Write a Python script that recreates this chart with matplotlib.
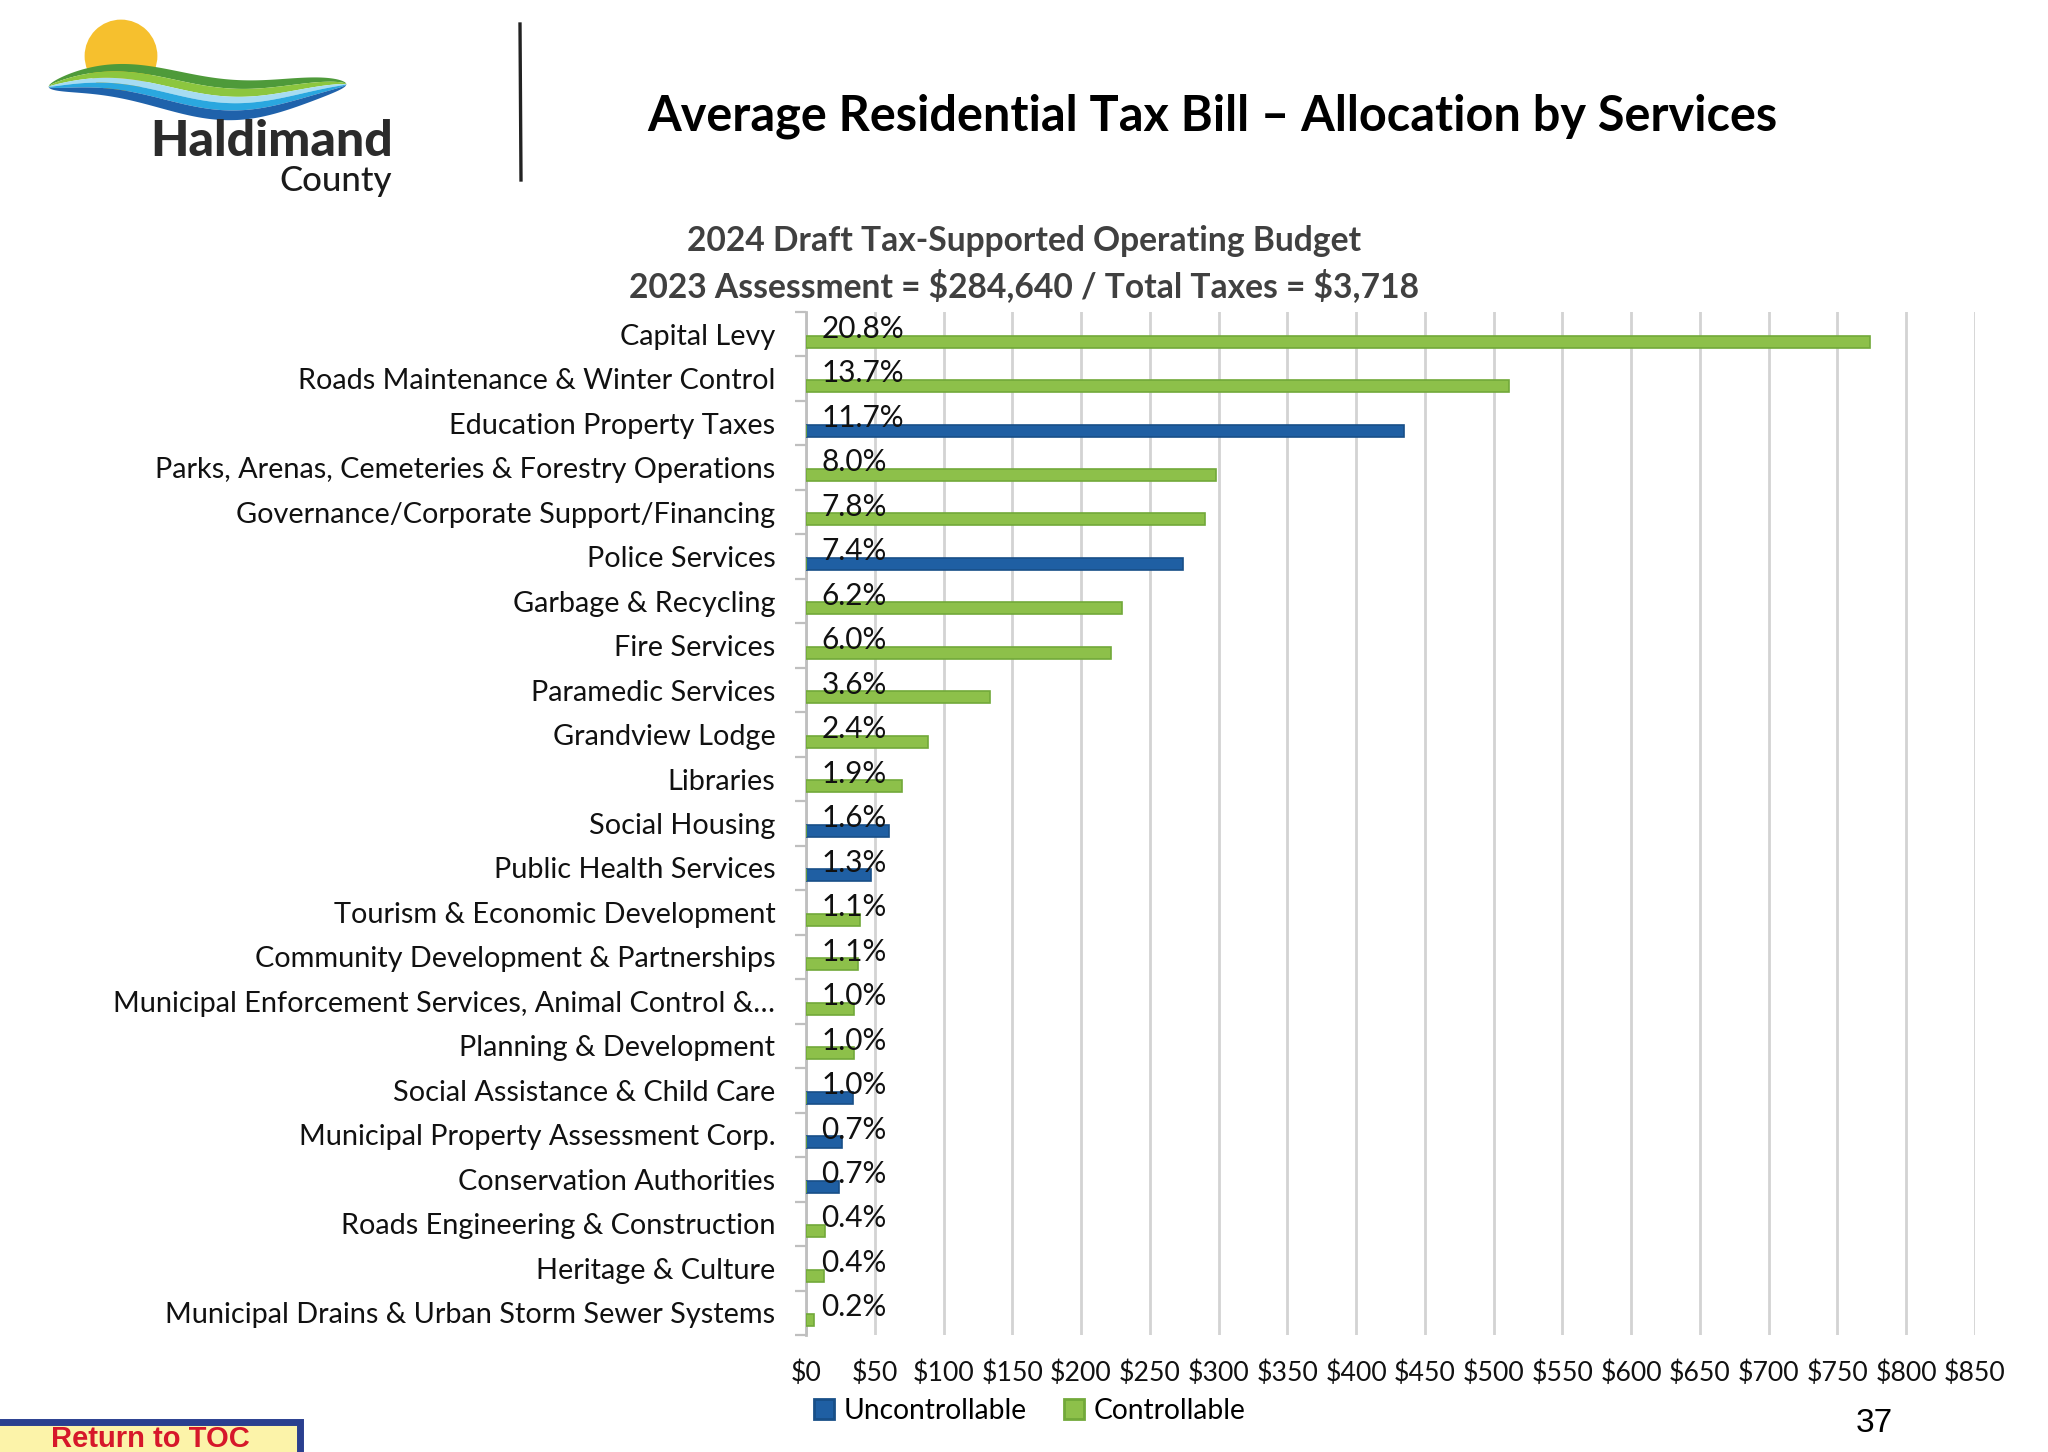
import numpy as np
import matplotlib
matplotlib.use("Agg")
import matplotlib.pyplot as plt
from matplotlib.patches import Rectangle, Circle

plt.rcParams["text.parse_math"] = False

categories = [
    "Capital Levy",
    "Roads Maintenance & Winter Control",
    "Education Property Taxes",
    "Parks, Arenas, Cemeteries & Forestry Operations",
    "Governance/Corporate Support/Financing",
    "Police Services",
    "Garbage & Recycling",
    "Fire Services",
    "Paramedic Services",
    "Grandview Lodge",
    "Libraries",
    "Social Housing",
    "Public Health Services",
    "Tourism & Economic Development",
    "Community Development & Partnerships",
    "Municipal Enforcement Services, Animal Control &\u2026",
    "Planning & Development",
    "Social Assistance & Child Care",
    "Municipal Property Assessment Corp.",
    "Conservation Authorities",
    "Roads Engineering & Construction",
    "Heritage & Culture",
    "Municipal Drains & Urban Storm Sewer Systems",
]
uncontrollable = [0, 0, 435, 0, 0, 274, 0, 0, 0, 0, 0, 60, 47, 0, 0, 0, 0, 34, 26, 24, 0, 0, 0]
controllable = [774, 511, 0, 298, 290, 0, 230, 222, 134, 89, 70, 0, 0, 39, 38, 35, 35, 0, 0, 0, 14, 13, 6]
pct_labels = ["20.8%", "13.7%", "11.7%", "8.0%", "7.8%", "7.4%", "6.2%", "6.0%", "3.6%",
              "2.4%", "1.9%", "1.6%", "1.3%", "1.1%", "1.1%", "1.0%", "1.0%", "1.0%",
              "0.7%", "0.7%", "0.4%", "0.4%", "0.2%"]
xticks = list(range(0, 851, 50))
xtick_labels = ["$" + str(v) for v in xticks]

FONT = "Lato"
W, H = 2048, 1452
fig = plt.figure(figsize=(W / 200, H / 200), dpi=200)
fig.patch.set_facecolor("white")

bg = fig.add_axes([0, 0, 1, 1], zorder=0)
bg.set_xlim(0, W)
bg.set_ylim(H, 0)
bg.axis("off")

# ---- logo ----
bg.add_patch(Circle((121, 56), 35, color="#f6c02e", zorder=1))
xs = np.linspace(48, 346, 300)
t = (xs - 48) / 298.0
center = 88 - 9 * np.sin(2 * np.pi * 1.15 * t + 0.2) + 4 * t
thick = 42 * np.sin(np.pi * t) ** 0.55
band_cols = ["#4e9a3a", "#8cc63f", "#a6dcf2", "#2aa7df", "#1f62ab"]
fracs = [0, 0.22, 0.42, 0.58, 0.76, 1.0]
for k, c in enumerate(band_cols):
    top_ = center - thick / 2 + thick * fracs[k]
    bot_ = center - thick / 2 + thick * fracs[k + 1]
    bg.fill_between(xs, top_, bot_, color=c, lw=0, zorder=2)
bg.text(393, 141, "Haldimand", ha="right", va="center", fontsize=18,
        fontweight="black", family=FONT, color="#2b2b2b", zorder=3)
bg.text(392, 181, "County", ha="right", va="center", fontsize=12.5,
        fontweight="medium", family=FONT, color="#1a1a1a", zorder=3)
bg.plot([520, 521], [24, 180], color="#222222", lw=1.2, zorder=3)

# ---- titles ----
bg.text(1212, 116, "Average Residential Tax Bill \u2013 Allocation by Services", ha="center",
        va="center", fontsize=17.5, fontweight="bold", family=FONT, color="black")
bg.text(1024, 241, "2024 Draft Tax-Supported Operating Budget", ha="center", va="center",
        fontsize=12.1, fontweight="bold", family=FONT, color="#404040")
bg.text(1024, 286, "2023 Assessment = $284,640 / Total Taxes = $3,718", ha="center", va="center",
        fontsize=12.1, fontweight="bold", family=FONT, color="#404040")

# ---- Return to TOC box & page number ----
bg.add_patch(Rectangle((-5, 1422), 305, 60, facecolor="#fcf3a9", edgecolor="#2a3f8f", lw=2.5, zorder=2))
bg.text(150, 1439, "Return to TOC", ha="center", va="center", fontsize=10.5, fontweight="bold",
        family="Liberation Sans", color="#d6172a", zorder=3)
bg.text(1874, 1424, "37", ha="center", va="center", fontsize=12, family="Liberation Sans", color="black")

# ---- main chart ----
left, right = 806 / W, 1975 / W
bottom, top = 1 - 1335 / H, 1 - 312 / H
ax = fig.add_axes([left, bottom, right - left, top - bottom], zorder=2)
ax.patch.set_alpha(0)

n = len(categories)
y = np.arange(n)
blue, blue_e = "#1f5fa3", "#184f88"
green, green_e = "#8dc04a", "#72a93a"
bh = 0.27
off = 0.165
ax.barh(y + off, uncontrollable, height=bh, color=blue, edgecolor=blue_e, lw=0.6,
        label="Uncontrollable", zorder=3)
ax.barh(y + off, controllable, height=bh, color=green, edgecolor=green_e, lw=0.6,
        label="Controllable", zorder=3)

for i, lab in enumerate(pct_labels):
    ax.annotate(lab, xy=(0, i - 0.12), xytext=(5.5, 0), textcoords="offset points",
                ha="left", va="center", fontsize=10.7, family=FONT, color="#111111", zorder=4)

ax.set_xlim(0, 850)
ax.set_ylim(n - 0.5, -0.5)
ax.set_xticks(xticks)
ax.set_xticklabels(xtick_labels, family=FONT, fontsize=9.6, color="#111111")
ax.set_yticks(y)
ax.set_yticklabels(categories, family=FONT, fontsize=10.4, color="#111111")
ax.set_yticks(np.arange(n + 1) - 0.5, minor=True)
ax.tick_params(axis="y", which="major", length=0, pad=11)
ax.tick_params(axis="y", which="minor", length=4, color="#bfbfbf", width=0.8)
ax.tick_params(axis="x", length=0, pad=9)
ax.grid(axis="x", color="#d3d3d3", lw=1.0, zorder=0)
for s in ["top", "right", "bottom"]:
    ax.spines[s].set_visible(False)
ax.spines["left"].set_color("#bfbfbf")
ax.spines["left"].set_linewidth(1.0)

handles = [Rectangle((0, 0), 1, 1, facecolor=blue, edgecolor=blue_e),
           Rectangle((0, 0), 1, 1, facecolor=green, edgecolor=green_e)]
fig.legend(handles, ["Uncontrollable", "Controllable"], loc="center left",
           bbox_to_anchor=(803 / W, 1 - 1411 / H), ncol=2, frameon=False,
           prop={"family": FONT, "size": 10.2}, handlelength=0.7, handleheight=0.7,
           handletextpad=0.35, columnspacing=1.3, borderaxespad=0)

fig.savefig("out.png", dpi=200)
